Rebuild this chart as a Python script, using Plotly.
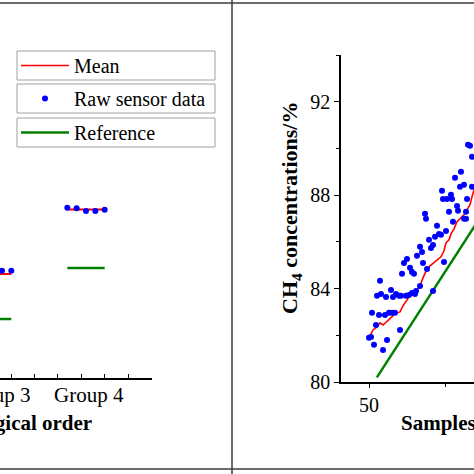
import plotly.graph_objects as go

FONT = "Liberation Serif, Times New Roman, serif"

# ---------------- Left panel data (groups in chronological order) ----------------
group_names = ["Group 3", "Group 4"]
group_centers = [3.0, 4.0]
sample_offsets = [-0.2, -0.1, 0.0, 0.1, 0.2]
group_raw = [
    [87.36, 87.30, 87.41, 87.79, 87.79],
    [92.73, 92.68, 92.47, 92.47, 92.57],
]
group_mean = [87.53, 92.58]
group_ref = [84.0, 88.0]

# ---------------- Right panel data (samples) ----------------
raw_x = [50.0, 50.66, 50.99, 51.64, 52.30, 52.63, 53.29, 53.62, 53.95, 54.61,
         55.26, 55.59, 55.92, 56.58, 57.24, 57.57, 57.89, 58.55, 58.88, 59.87,
         60.20, 60.53, 60.86, 61.51, 62.17, 62.50, 63.16, 63.49, 64.14, 64.14,
         64.80, 65.13, 65.46, 65.79, 66.78, 66.78, 67.43, 67.76, 68.42, 68.75,
         69.08, 69.74, 70.39, 71.05, 71.05, 71.71, 72.37, 73.03, 73.68, 74.01,
         74.34, 74.67, 75.33, 75.66, 76.32, 76.97, 77.30, 77.63, 78.29, 78.95,
         79.28, 79.93, 80.26, 81.25, 81.25, 81.91, 81.91, 82.24, 82.57, 83.22,
         83.88, 83.88]
raw_y = [81.89, 81.93, 82.96, 81.59, 82.44, 83.69, 82.87, 84.33, 83.77, 81.37,
         82.87, 83.64, 81.80, 82.96, 83.94, 82.96, 83.64, 82.96, 83.77, 83.69,
         82.23, 83.69, 84.63, 85.10, 83.69, 85.27, 83.73, 84.89, 84.71, 83.81,
         84.63, 83.77, 83.90, 85.40, 84.11, 85.79, 85.57, 85.10, 87.20, 86.99,
         84.84, 86.09, 85.74, 85.87, 83.90, 86.22, 86.69, 86.34, 86.30, 88.19,
         87.84, 85.14, 86.47, 87.84, 87.29, 88.02, 87.84, 86.86, 88.74, 87.54,
         87.33, 88.36, 89.00, 88.44, 86.99, 87.29, 86.99, 87.84, 90.16, 90.12,
         89.64, 88.36]
mean_x = [50.0, 50.66, 51.32, 52.63, 53.62, 54.61, 55.92, 57.24, 58.22, 59.21,
          60.20, 61.18, 62.17, 63.16, 63.82, 64.80, 65.79, 66.78, 67.76, 69.08,
          70.07, 71.38, 72.37, 73.68, 74.67, 75.33, 76.32, 76.97, 77.96, 78.95,
          79.93, 81.25, 82.24, 83.22, 83.88, 84.54]
mean_y = [81.89, 82.10, 82.23, 82.36, 82.53, 82.44, 82.61, 82.74, 82.87, 82.96,
          83.00, 83.26, 83.47, 83.64, 83.73, 83.86, 83.94, 84.11, 84.46, 84.84,
          84.97, 85.10, 85.19, 85.36, 85.62, 85.96, 86.09, 86.34, 86.56, 86.86,
          86.99, 87.16, 87.37, 87.59, 87.93, 88.23]
ref_x = [52.6, 85.0]
ref_y = [80.2, 86.73]

y_ticks_right = [80, 84, 88, 92]

RED = "#ff0000"
BLUE = "#0000ff"
GREEN = "#008000"

fig = go.Figure()

# Left panel traces
for gi, (c, raw, m, r) in enumerate(zip(group_centers, group_raw, group_mean, group_ref)):
    xs = [c + o for o in sample_offsets]
    fig.add_trace(go.Scatter(x=[xs[0], xs[-1]], y=[r, r], mode="lines",
                             line=dict(color=GREEN, width=2.5),
                             xaxis="x", yaxis="y", showlegend=False, hoverinfo="skip"))
    fig.add_trace(go.Scatter(x=[xs[0], xs[-1]], y=[m, m], mode="lines",
                             line=dict(color=RED, width=2),
                             xaxis="x", yaxis="y", showlegend=False, hoverinfo="skip"))
    fig.add_trace(go.Scatter(x=xs, y=raw, mode="markers",
                             marker=dict(color=BLUE, size=6),
                             xaxis="x", yaxis="y", showlegend=False, hoverinfo="skip"))

# Right panel traces
fig.add_trace(go.Scatter(x=ref_x, y=ref_y, mode="lines", name="Reference",
                         line=dict(color=GREEN, width=2.5),
                         xaxis="x2", yaxis="y2", legend="legend3"))
fig.add_trace(go.Scatter(x=mean_x, y=mean_y, mode="lines", name="Mean",
                         line=dict(color=RED, width=1.6),
                         xaxis="x2", yaxis="y2", legend="legend"))
fig.add_trace(go.Scatter(x=raw_x, y=raw_y, mode="markers", name="Raw sensor data",
                         marker=dict(color=BLUE, size=6),
                         xaxis="x2", yaxis="y2", legend="legend2"))

W = H = 474
FIG_H = 485  # rendered height observed to be slightly smaller than requested

def px_x(p):
    return p / W

def px_y(p):
    return 1 - p / H

left_dom = [0, px_x(152)]
left_range = [3.079, 4.707]

legend_common = dict(xanchor="left", yanchor="middle", borderwidth=0,
                     bgcolor="rgba(0,0,0,0)", font=dict(size=20, family=FONT, color="black"),
                     itemwidth=48)

fig.update_layout(
    width=W, height=FIG_H, autosize=False,
    margin=dict(l=0, r=0, t=0, b=0),
    paper_bgcolor="white", plot_bgcolor="white",
    font=dict(family=FONT, size=20, color="black"),
    xaxis=dict(domain=left_dom, range=left_range, showgrid=False, zeroline=False,
               showline=True, linecolor="black", linewidth=1.5,
               ticks="inside", ticklen=4, tickcolor="black", tickwidth=1.2,
               tick0=0.2, dtick=0.25, showticklabels=False, anchor="y"),
    yaxis=dict(domain=[px_y(378), px_y(55)], range=[79.373, 104.706], visible=False,
               anchor="x"),
    xaxis2=dict(domain=[px_x(341), 1], range=[40.79, 84.54], showgrid=False, zeroline=False,
                showline=True, linecolor="black", linewidth=1.5,
                ticks="outside", ticklen=4, tickcolor="black", tickwidth=1.2,
                tick0=0, dtick=50,
                minor=dict(dtick=25, ticks="outside", ticklen=3, tickcolor="black"),
                tickfont=dict(size=20, family=FONT), anchor="y2"),
    yaxis2=dict(domain=[px_y(382), px_y(55)], range=[80, 94], showgrid=False, zeroline=False,
                showline=True, linecolor="black", linewidth=1.5,
                ticks="outside", ticklen=5, tickcolor="black", tickwidth=1.2,
                tickvals=y_ticks_right,
                minor=dict(dtick=2, ticks="outside", ticklen=3, tickcolor="black"),
                tickfont=dict(size=20, family=FONT), anchor="x2"),
    legend=dict(x=px_x(16), y=px_y(65.5), **legend_common),
    legend2=dict(x=px_x(16), y=px_y(98.5), **legend_common),
    legend3=dict(x=px_x(16), y=px_y(132.5), **legend_common),
)

annotations = []
for name, c in zip(group_names, group_centers):
    # convert group centre (data units) to paper units so labels partly off-canvas still render
    frac = (c + 0.03 - left_range[0]) / (left_range[1] - left_range[0])
    xp = left_dom[0] + frac * (left_dom[1] - left_dom[0])
    annotations.append(dict(x=xp, y=px_y(395), xref="paper", yref="paper", text=name,
                            showarrow=False, font=dict(size=21, family=FONT),
                            xanchor="center", yanchor="middle"))
annotations.append(dict(x=px_x(94), y=px_y(423), xref="paper", yref="paper",
                        text="<b>Chronological order</b>", showarrow=False,
                        font=dict(size=21, family=FONT), xanchor="right", yanchor="middle"))
annotations.append(dict(x=px_x(399), y=px_y(423), xref="paper", yref="paper",
                        text="<b>Samples number</b>", showarrow=False,
                        font=dict(size=21, family=FONT), xanchor="left", yanchor="middle"))
annotations.append(dict(x=px_x(291), y=px_y(208), xref="paper", yref="paper",
                        text="<b>CH<sub>4</sub> concentrations/%</b>", showarrow=False,
                        textangle=-90, font=dict(size=22, family=FONT),
                        xanchor="center", yanchor="middle"))
fig.update_layout(annotations=annotations)

box_tops = [51, 84, 118]
shapes = [
    dict(type="line", xref="paper", yref="paper", x0=0, x1=1, y0=px_y(3), y1=px_y(3),
         line=dict(color="#3a3a3a", width=1.5)),
    dict(type="line", xref="paper", yref="paper", x0=0, x1=1, y0=px_y(469), y1=px_y(469),
         line=dict(color="#3a3a3a", width=1.5)),
    dict(type="line", xref="paper", yref="paper", x0=px_x(232), x1=px_x(232), y0=0, y1=1,
         line=dict(color="#3a3a3a", width=1.5)),
]
for t in box_tops:
    shapes.append(dict(type="rect", xref="paper", yref="paper",
                       x0=px_x(17), x1=px_x(215), y0=px_y(t), y1=px_y(t + 29),
                       line=dict(color="#a0a0a0", width=1), fillcolor="white", layer="below"))
fig.update_layout(shapes=shapes)

fig.write_html("out.html", config={"responsive": False})
